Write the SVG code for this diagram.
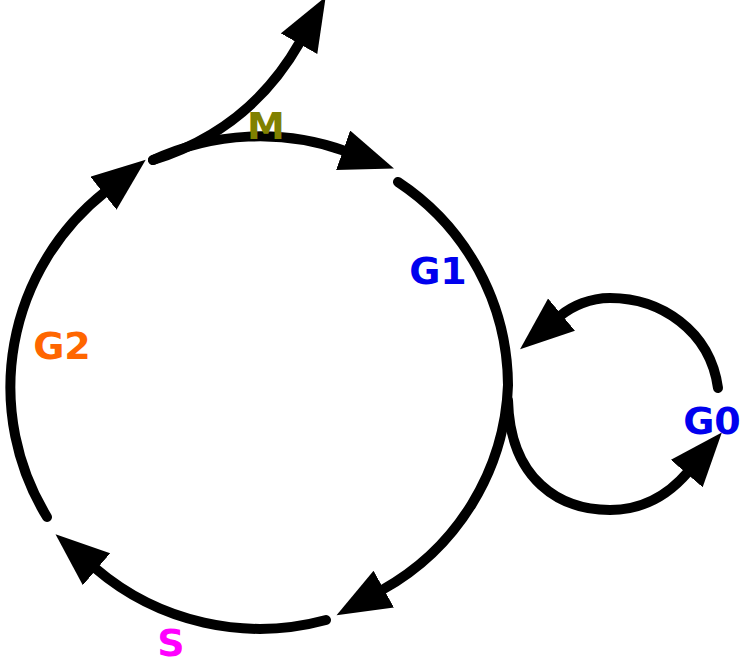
<svg xmlns="http://www.w3.org/2000/svg" width="742" height="660" viewBox="0 0 742 660">
<style>
.c{fill:none;stroke:#000;stroke-width:10;stroke-linecap:round;marker-end:url(#ah)}
text{font-family:"DejaVu Sans",sans-serif;font-weight:bold;font-size:38px;text-anchor:middle}
</style>
<defs><marker id="ah" markerUnits="userSpaceOnUse" markerWidth="60" markerHeight="50" refX="2" refY="21" orient="auto" viewBox="0 0 60 50"><path d="M0,0 L54,21 L0,42 z" fill="#000"/></marker></defs>
<rect width="742" height="660" fill="#fff"/>
<g id="connectors">
<path class="c" d="M398,182 A245 245 0 0 1 508,385 A245 245 0 0 1 382,590"/>
<path class="c" d="M326,620 A252 250 0 0 1 95,568"/>
<path class="c" d="M47,517 A252 250 0 0 1 105,192"/>
<path class="c" d="M153,160 A252 250 0 0 1 345,151"/>
<path class="c" d="M153,160 Q250,130 300,42"/>
<path class="c" d="M508,400 C510,480 560,510 610,510 C645,510 670,493 688,472"/>
<path class="c" d="M718,388 C710,330 660,298 610,298 C590,298 572,306 560,316"/>
</g>
<g id="M"><text x="266" y="139" fill="#808000">M</text></g>
<g id="G1"><text x="438" y="284" fill="#0000ee">G1</text></g>
<g id="G2"><text x="62" y="359" fill="#ff6600">G2</text></g>
<g id="S"><text x="171" y="656" fill="#ff00ff">S</text></g>
<g id="G0"><text x="712" y="434" fill="#0000ee">G0</text></g>
</svg>
